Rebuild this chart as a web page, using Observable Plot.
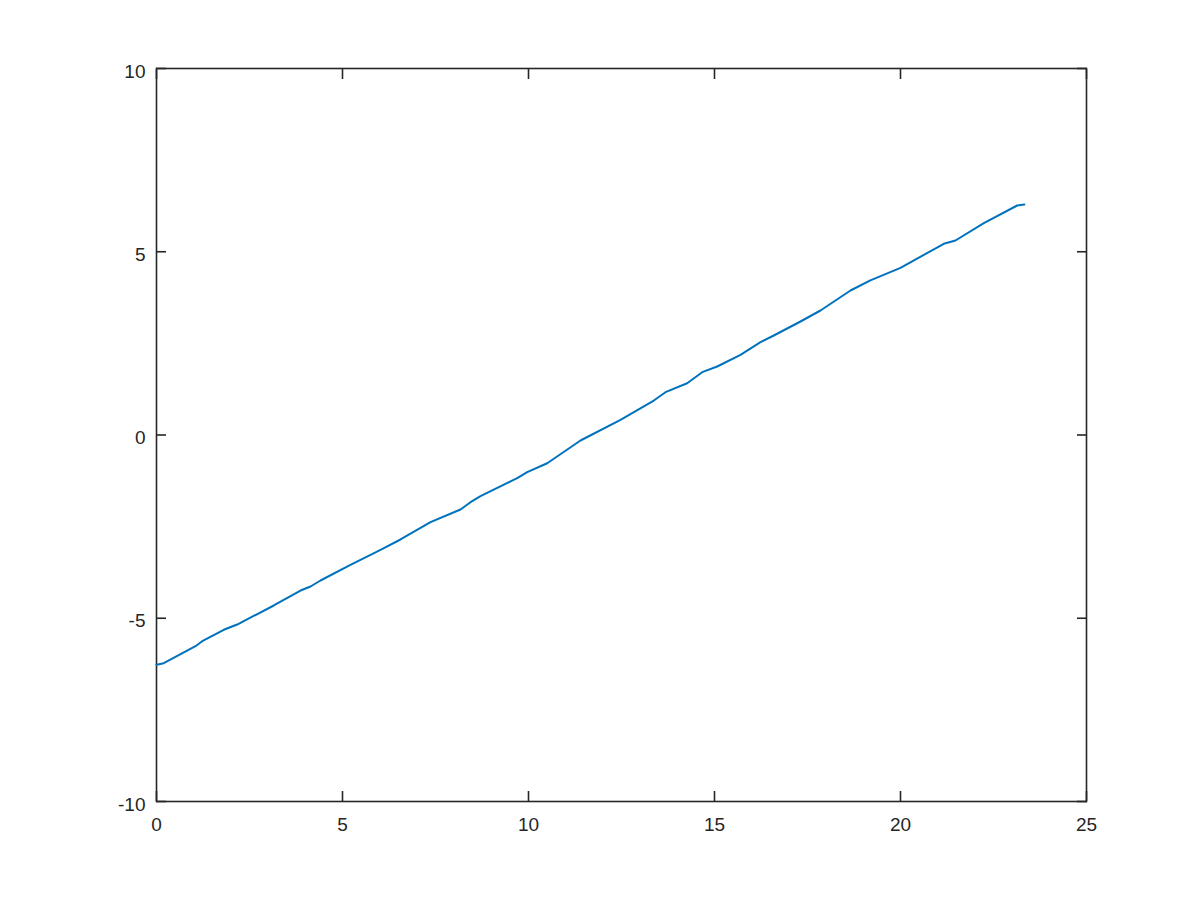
<!DOCTYPE html>
<html>
<head>
<meta charset="utf-8">
<script src="https://cdn.jsdelivr.net/npm/d3@7"></script>
<script src="https://cdn.jsdelivr.net/npm/@observablehq/plot@0.6"></script>
<style>
  html, body { margin: 0; padding: 0; background: #fff; }
  #chart { width: 1200px; height: 900px; }
</style>
</head>
<body>
<div id="chart"></div>
<script>
// Data
const xs = [0, 0.196, 1.048, 1.229, 1.809, 2.169, 3.153, 3.871, 4.140, 4.409, 5.2, 6.022, 6.559, 7.366, 8.172, 8.441, 8.710, 9.696, 9.965, 10.503, 11.398, 12.473, 13.368, 13.683, 14.266, 14.669, 15.073, 15.699, 16.237, 16.594, 17.312, 17.849, 18.656, 19.19, 20.0, 21.164, 21.478, 22.24, 23.137, 23.33];
const ys = [-6.27, -6.226, -5.763, -5.626, -5.315, -5.171, -4.652, -4.243, -4.134, -3.970, -3.55, -3.132, -2.851, -2.379, -2.033, -1.834, -1.670, -1.179, -1.015, -0.770, -0.150, 0.415, 0.941, 1.168, 1.413, 1.714, 1.869, 2.188, 2.532, 2.715, 3.097, 3.397, 3.943, 4.22, 4.562, 5.217, 5.307, 5.779, 6.262, 6.29];
const xTicks = [0, 5, 10, 15, 20, 25];
const yTicks = [-10, -5, 0, 5, 10];

const data = xs.map((x, i) => ({x, y: ys[i]}));
const axisColor = "#262626";
const font = "'Liberation Sans', Arial, sans-serif";
const fmt = d => String(d);

const chart = Plot.plot({
  width: 1200,
  height: 900,
  marginLeft: 156,
  marginRight: 114,
  marginTop: 68,
  marginBottom: 99,
  style: {fontFamily: font, fontSize: "19px", color: axisColor, background: "#fff"},
  x: {domain: [0, 25]},
  y: {domain: [-10, 10]},
  marks: [
    // labels
    Plot.axisX(xTicks, {anchor: "bottom", tickSize: 0, tickPadding: 16, tickFormat: fmt, label: null, fill: axisColor, fontSize: 19}),
    Plot.axisY(yTicks, {anchor: "left", tickSize: 0, tickPadding: 11, tickFormat: fmt, label: null, fill: axisColor, fontSize: 19, dy: 3}),
    // inward ticks on all four sides
    Plot.axisX(xTicks, {anchor: "bottom", tickSize: -10, text: null, label: null, stroke: axisColor, strokeWidth: 1.6}),
    Plot.axisX(xTicks, {anchor: "top", tickSize: -10, text: null, label: null, stroke: axisColor, strokeWidth: 1.6}),
    Plot.axisY(yTicks, {anchor: "left", tickSize: -10, text: null, label: null, stroke: axisColor, strokeWidth: 1.6}),
    Plot.axisY(yTicks, {anchor: "right", tickSize: -10, text: null, label: null, stroke: axisColor, strokeWidth: 1.6}),
    Plot.frame({stroke: axisColor, strokeWidth: 1.6}),
    Plot.line(data, {x: "x", y: "y", stroke: "#0072BD", strokeWidth: 2})
  ]
});
document.getElementById("chart").appendChild(chart);
</script>
</body>
</html>
